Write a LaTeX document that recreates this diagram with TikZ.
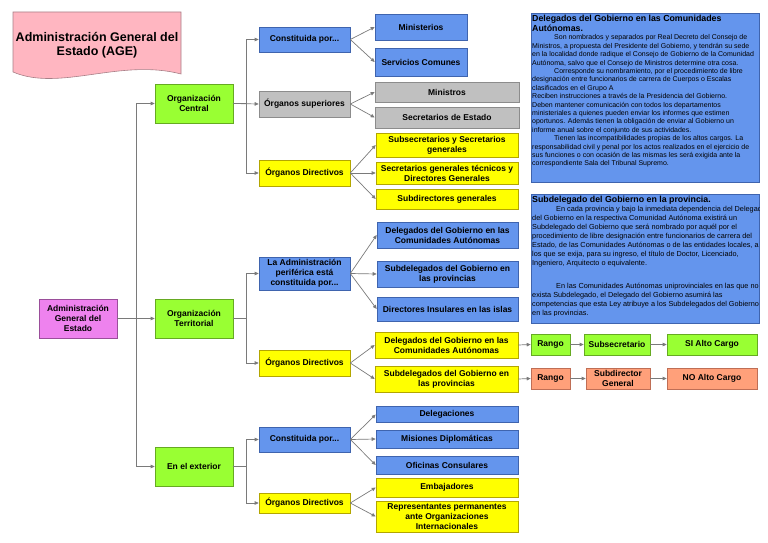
\documentclass[tikz,border=0pt]{standalone}
\usepackage{fontspec}
\setmainfont{Liberation Sans}
\usetikzlibrary{arrows.meta,shadows}
\definecolor{cblue}{HTML}{6495ED}
\definecolor{cblueD}{HTML}{3F64AE}
\definecolor{cgray}{HTML}{C0C0C0}
\definecolor{cgrayD}{HTML}{8C8C8C}
\definecolor{cyel}{HTML}{FFFF00}
\definecolor{cyelD}{HTML}{B3A600}
\definecolor{cgreen}{HTML}{99FF33}
\definecolor{cgreenD}{HTML}{66AA22}
\definecolor{cviol}{HTML}{EE82EE}
\definecolor{cviolD}{HTML}{9A4E9A}
\definecolor{corange}{HTML}{FFA07A}
\definecolor{corangeD}{HTML}{BF6E55}
\definecolor{cpink}{HTML}{FFB6C1}
\definecolor{cpinkD}{HTML}{A88088}
\definecolor{lineg}{HTML}{7A7A7A}
\tikzset{
  box/.style={draw, line width=0.6pt, inner sep=1pt, align=center,
    font=\bfseries\fontsize{8.5}{10}\selectfont,
    drop shadow={shadow xshift=0.8pt, shadow yshift=-0.8pt, opacity=0.3, fill=gray}},
  bl/.style={box, fill=cblue, draw=cblueD},
  gr/.style={box, fill=cgray, draw=cgrayD},
  ye/.style={box, fill=cyel, draw=cyelD},
  gn/.style={box, fill=cgreen, draw=cgreenD},
  vi/.style={box, fill=cviol, draw=cviolD},
  og/.style={box, fill=corange, draw=corangeD},
  conn/.style={draw=lineg, line width=0.7pt, -{Triangle[length=4pt,width=3.5pt]}},
  tbox/.style={draw=cblueD, fill=cblue, line width=0.6pt, anchor=north west, inner sep=0pt,
    drop shadow={shadow xshift=0.8pt, shadow yshift=-0.8pt, opacity=0.3, fill=gray}},
  ttext/.style={anchor=north west, inner sep=0pt},
}
\begin{document}
\begin{tikzpicture}[x=1pt,y=-1pt]
\useasboundingbox (0,0) rectangle (768,543);

% title
\draw[fill=cpink, draw=cpinkD, line width=0.6pt] (13,12) -- (181,12) -- (181,74)
  .. controls (120,58) and (60,92) .. (13,72) -- cycle;
\node[align=center, font=\bfseries\fontsize{12.5}{14}\selectfont] (title) at (97,45)
  {Administración General del\\Estado (AGE)};

% level 0/1
\node[vi, minimum width=78, minimum height=39] (root) at (78,318.5) {Administración\\General del\\Estado};
\node[gn, minimum width=78, minimum height=39] (central) at (194,103.5) {Organización\\Central};
\node[gn, minimum width=78, minimum height=39] (terr) at (194,318.5) {Organización\\Territorial};
\node[gn, minimum width=78, minimum height=39] (ext) at (194,466.5) {En el exterior};

% central
\node[bl, minimum width=91, minimum height=25] (cons1) at (304.5,39.5) {Constituida por...};
\node[bl, minimum width=92, minimum height=26] (ministerios) at (421,27) {Ministerios};
\node[bl, minimum width=92, minimum height=28] (servicios) at (421,62) {Servicios Comunes};
\node[gr, minimum width=91, minimum height=26] (orgsup) at (304.5,104) {Órganos superiores};
\node[gr, minimum width=144, minimum height=20] (ministros) at (447,92) {Ministros};
\node[gr, minimum width=144, minimum height=21] (secest) at (447,117.5) {Secretarios de Estado};
\node[ye, minimum width=91, minimum height=26] (orgdir1) at (304.5,173) {Órganos Directivos};
\node[ye, minimum width=142, minimum height=24] (subsec) at (447,145) {Subsecretarios y Secretarios\\generales};
\node[ye, minimum width=142, minimum height=22] (sgt) at (447,173) {Secretarios generales técnicos y\\Directores Generales};
\node[ye, minimum width=142, minimum height=20] (subdir) at (447,199) {Subdirectores generales};

% territorial
\node[bl, minimum width=91, minimum height=33] (perif) at (304.5,273.5) {La Administración\\periférica está\\constituida por...};
\node[bl, minimum width=141, minimum height=26] (delegB) at (447.5,235) {Delegados del Gobierno en las\\Comunidades Autónomas};
\node[bl, minimum width=141, minimum height=26] (subdelB) at (447.5,274) {Subdelegados del Gobierno en\\las provincias};
\node[bl, minimum width=141, minimum height=24] (insul) at (447.5,309) {Directores Insulares en las islas};
\node[ye, minimum width=91, minimum height=26] (orgdir2) at (304.5,363) {Órganos Directivos};
\node[ye, minimum width=143, minimum height=26] (delegY) at (446.5,345) {Delegados del Gobierno en las\\Comunidades Autónomas};
\node[ye, minimum width=143, minimum height=26] (subdelY) at (446.5,379) {Subdelegados del Gobierno en\\las provincias};
\node[gn, minimum width=39, minimum height=21] (rango1) at (550.5,344.5) {Rango};
\node[gn, minimum width=66, minimum height=21] (subsecr) at (617,344.5) {Subsecretario};
\node[gn, minimum width=90, minimum height=21] (si) at (712,344.5) {SI Alto Cargo};
\node[og, minimum width=39, minimum height=21] (rango2) at (550.5,378.5) {Rango};
\node[og, minimum width=64, minimum height=21] (subdirg) at (618,378.5) {Subdirector\\General};
\node[og, minimum width=90, minimum height=21] (no) at (712,378.5) {NO Alto Cargo};

% exterior
\node[bl, minimum width=91, minimum height=25] (cons2) at (304.5,439.5) {Constituida por...};
\node[bl, minimum width=142, minimum height=16] (delegac) at (447,414.5) {Delegaciones};
\node[bl, minimum width=142, minimum height=18] (misiones) at (447,439) {Misiones Diplomáticas};
\node[bl, minimum width=142, minimum height=18] (oficinas) at (447,465) {Oficinas Consulares};
\node[ye, minimum width=91, minimum height=20] (orgdir3) at (304.5,503) {Órganos Directivos};
\node[ye, minimum width=142, minimum height=19] (embaj) at (447,487.5) {Embajadores};
\node[ye, minimum width=142, minimum height=31] (repres) at (447,516.5) {Representantes permanentes\\ante Organizaciones\\Internacionales};

% text boxes
\node[tbox, minimum width=228, minimum height=169] (info1) at (531,13) {};
\node[tbox, minimum width=228, minimum height=129] (info2) at (531,194) {};
\node[ttext] (info1txt) at (532,15) {\begin{minipage}[t]{250pt}\raggedright\parindent0pt
\fontsize{8.8}{10}\selectfont\bfseries Delegados del Gobierno en las Comunidades\\Autónomas.\par
\fontsize{7.0}{8.4}\selectfont\mdseries
\hspace*{22pt}Son nombrados y separados por Real Decreto del Consejo de\\
Ministros, a propuesta del Presidente del Gobierno, y tendrán su sede\\
en la localidad donde radique el Consejo de Gobierno de la Comunidad\\
Autónoma, salvo que el Consejo de Ministros determine otra cosa.\\
\hspace*{22pt}Corresponde su nombramiento, por el procedimiento de libre\\
designación entre funcionarios de carrera de Cuerpos o Escalas\\
clasificados en el Grupo A\\
Reciben instrucciones a través de la Presidencia del Gobierno.\\
Deben mantener comunicación con todos los departamentos\\
ministeriales a quienes pueden enviar los informes que estimen\\
oportunos. Además tienen la obligación de enviar al Gobierno un\\
informe anual sobre el conjunto de sus actividades.\\
\hspace*{22pt}Tienen las incompatibilidades propias de los altos cargos. La\\
responsabilidad civil y penal por los actos realizados en el ejercicio de\\
sus funciones o con ocasión de las mismas les será exigida ante la\\
correspondiente Sala del Tribunal Supremo.\par\end{minipage}};
\begin{scope}
\clip (531,194) rectangle (759,315.5);
\node[ttext] (info2txt) at (532,196) {\begin{minipage}[t]{250pt}\raggedright\parindent0pt
\fontsize{8.8}{10}\selectfont\bfseries Subdelegado del Gobierno en la provincia.\par
\fontsize{7.3}{9}\selectfont\mdseries
\hspace*{24pt}En cada provincia y bajo la inmediata dependencia del Delegado\\
del Gobierno en la respectiva Comunidad Autónoma existirá un\\
Subdelegado del Gobierno que será nombrado por aquél por el\\
procedimiento de libre designación entre funcionarios de carrera del\\
Estado, de las Comunidades Autónomas o de las entidades locales, a\\
los que se exija, para su ingreso, el título de Doctor, Licenciado,\\
Ingeniero, Arquitecto o equivalente.\\[13.5pt]
\hspace*{24pt}En las Comunidades Autónomas uniprovinciales en las que no\\
exista Subdelegado, el Delegado del Gobierno asumirá las\\
competencias que esta Ley atribuye a los Subdelegados del Gobierno\\
en las provincias.\par\end{minipage}};
\end{scope}

% connectors level 1
\draw[conn] (root.east) -- (terr.west);
\draw[conn] (root.east) -- ++(19,0) |- (central.west);
\draw[conn] (root.east) -- ++(19,0) |- (ext.west);
% level 2
\draw[conn] (central.east) -- ++(13,0) |- (cons1.west);
\draw[conn] (central.east) -- (orgsup.west);
\draw[conn] (central.east) -- ++(13,0) |- (orgdir1.west);
\draw[conn] (terr.east) -- ++(13,0) |- (perif.west);
\draw[conn] (terr.east) -- ++(13,0) |- (orgdir2.west);
\draw[conn] (ext.east) -- ++(13,0) |- (cons2.west);
\draw[conn] (ext.east) -- ++(13,0) |- (orgdir3.west);
% level 3
\draw[conn] (cons1.east) -- (ministerios.west);
\draw[conn] (cons1.east) -- (servicios.west);
\draw[conn] (orgsup.east) -- (ministros.west);
\draw[conn] (orgsup.east) -- (secest.west);
\draw[conn] (orgdir1.east) -- (subsec.west);
\draw[conn] (orgdir1.east) -- (sgt.west);
\draw[conn] (orgdir1.east) -- (subdir.west);
\draw[conn] (perif.east) -- (delegB.west);
\draw[conn] (perif.east) -- (subdelB.west);
\draw[conn] (perif.east) -- (insul.west);
\draw[conn] (orgdir2.east) -- (delegY.west);
\draw[conn] (orgdir2.east) -- (subdelY.west);
\draw[conn] (cons2.east) -- (delegac.west);
\draw[conn] (cons2.east) -- (misiones.west);
\draw[conn] (cons2.east) -- (oficinas.west);
\draw[conn] (orgdir3.east) -- (embaj.west);
\draw[conn] (orgdir3.east) -- (repres.west);
% chains
\draw[conn] (delegY.east) -- (rango1.west);
\draw[conn] (rango1) -- (subsecr);
\draw[conn] (subsecr) -- (si);
\draw[conn] (subdelY.east) -- (rango2.west);
\draw[conn] (rango2) -- (subdirg);
\draw[conn] (subdirg) -- (no);
\end{tikzpicture}
\end{document}
